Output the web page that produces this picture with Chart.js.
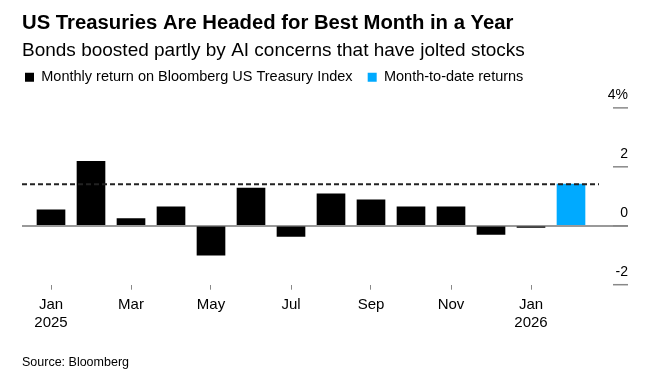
<!DOCTYPE html>
<html>
<head>
<meta charset="utf-8">
<script src="https://cdn.jsdelivr.net/npm/chart.js@4.4.1/dist/chart.umd.min.js"></script>
<style>
    html, body { margin: 0; padding: 0; background: #fff; }
    #wrap { width: 646px; height: 379px; }
</style>
</head>
<body>
<div id="wrap"><canvas id="chart"></canvas></div>
<script>
// Bloomberg US Treasury Index, monthly return (%), Jan 2025 - Jan 2026
const months = ['Jan', 'Feb', 'Mar', 'Apr', 'May', 'Jun', 'Jul', 'Aug', 'Sep', 'Oct', 'Nov', 'Dec', 'Jan', 'Feb'];
const years = ['2025', '', '', '', '', '', '', '', '', '', '', '', '2026', ''];
const monthlyReturns = [0.54, 2.19, 0.24, 0.64, -1.0, 1.28, -0.36, 1.08, 0.88, 0.64, 0.64, -0.29, -0.06];
// February 2026, month to date
const mtdReturn = 1.41;

const FONT = "'Liberation Sans', Arial, sans-serif";

// short tick marks at the right end of each y gridline
const yTickMarks = {
    id: 'yTickMarks',
    afterDatasetsDraw(chart) {
        const {ctx, chartArea, scales: {y}} = chart;
        ctx.save();
        ctx.strokeStyle = '#888';
        ctx.lineWidth = 1.5;
        y.ticks.forEach(t => {
            const py = y.getPixelForValue(t.value);
            ctx.beginPath();
            ctx.moveTo(chartArea.right - 15, py);
            ctx.lineTo(chartArea.right, py);
            ctx.stroke();
        });
        ctx.restore();
    }
};

const xMin = -0.725;
const xMax = 14.425;

new Chart(document.getElementById('chart'), {
    type: 'bar',
    data: {
        datasets: [{
            label: 'Monthly return on Bloomberg US Treasury Index   ',
            data: monthlyReturns.map((v, i) => ({x: i, y: v})),
            backgroundColor: '#000',
            barThickness: 28,
            grouped: false,
            order: 1
        }, {
            label: 'Month-to-date returns',
            data: [{x: monthlyReturns.length, y: mtdReturn}],
            backgroundColor: '#00aaff',
            barThickness: 28,
            grouped: false,
            order: 1
        }, {
            type: 'line',
            label: 'level',
            data: [{x: xMin, y: mtdReturn}, {x: monthlyReturns.length + 0.7, y: mtdReturn}],
            borderColor: '#222',
            borderWidth: 2,
            borderDash: [5, 3],
            pointRadius: 0,
            order: 0
        }]
    },
    options: {
        responsive: true,
        maintainAspectRatio: false,
        animation: false,
        layout: {
            padding: {left: 22, right: 18, top: 0, bottom: 8.7}
        },
        scales: {
            x: {
                type: 'linear',
                min: xMin,
                max: xMax,
                offset: false,
                afterBuildTicks: scale => {
                    scale.ticks = months.map((m, i) => ({value: i})).filter(t => t.value % 2 === 0);
                },
                ticks: {
                    autoSkip: false,
                    maxRotation: 0,
                    padding: 6,
                    color: '#000',
                    font: {family: FONT, size: 15},
                    callback: value => years[value] ? [months[value], years[value]] : months[value]
                },
                grid: {
                    offset: false,
                    drawOnChartArea: false,
                    drawTicks: true,
                    tickLength: 5,
                    tickColor: '#888',
                    tickWidth: 1
                },
                border: {display: false},
                title: {
                    display: true,
                    text: 'Source: Bloomberg',
                    align: 'start',
                    color: '#000',
                    font: {family: FONT, size: 12.5},
                    padding: {top: 17.6, bottom: 0}
                }
            },
            y: {
                position: 'right',
                min: -2,
                max: 4.45,
                ticks: {
                    stepSize: 2,
                    includeBounds: false,
                    mirror: true,
                    padding: 0,
                    labelOffset: -13,
                    color: '#000',
                    font: {family: FONT, size: 14},
                    callback: v => v === 4 ? v + '%' : v
                },
                grid: {
                    drawTicks: false,
                    lineWidth: 2,
                    color: c => c.tick && c.tick.value === 0 ? '#999' : 'transparent'
                },
                border: {display: false}
            }
        },
        plugins: {
            title: {
                display: true,
                text: 'US Treasuries Are Headed for Best Month in a Year',
                align: 'start',
                color: '#000',
                font: {family: FONT, size: 20.3, weight: 'bold'},
                padding: {top: 11.3, bottom: 0}
            },
            subtitle: {
                display: true,
                text: 'Bonds boosted partly by AI concerns that have jolted stocks',
                align: 'start',
                color: '#000',
                font: {family: FONT, size: 19, weight: 'normal'},
                padding: {top: 4.1, bottom: 4.55}
            },
            legend: {
                position: 'top',
                align: 'start',
                labels: {
                    boxWidth: 9,
                    boxHeight: 9,
                    padding: 3,
                    color: '#000',
                    font: {family: FONT, size: 14.5},
                    filter: item => item.datasetIndex !== 2
                }
            },
            tooltip: {enabled: false}
        }
    },
    plugins: [yTickMarks]
});
</script>
</body>
</html>
